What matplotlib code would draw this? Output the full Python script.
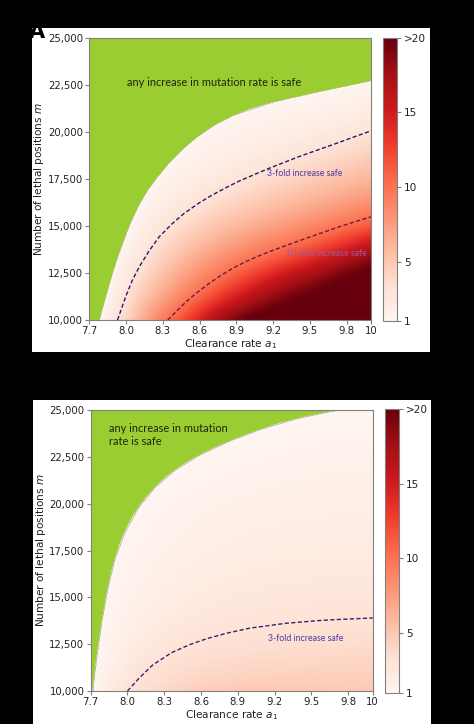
import numpy as np
import matplotlib
matplotlib.use("Agg")
import matplotlib.pyplot as plt
import matplotlib.tri as mtri
from matplotlib.patches import Rectangle
from matplotlib.colors import Normalize
from matplotlib.cm import ScalarMappable

# ---------------- data ----------------
x_ticks = [7.7, 8.0, 8.3, 8.6, 8.9, 9.2, 9.5, 9.8, 10.0]
x_tick_labels = ["7.7", "8.0", "8.3", "8.6", "8.9", "9.2", "9.5", "9.8", "10"]
y_ticks = [10000, 12500, 15000, 17500, 20000, 22500, 25000]
y_tick_labels = ["10,000", "12,500", "15,000", "17,500", "20,000", "22,500", "25,000"]
cbar_ticks = [1, 5, 10, 15, 20]
cbar_labels = ["1", "5", "10", "15", ">20"]

# Panel A : edge of the green "any increase is safe" region
edge_A_a1 = [7.783, 7.80, 7.82, 7.84, 7.86, 7.88, 7.90, 7.93, 7.96, 8.00, 8.05, 8.10, 8.15, 8.20,
             8.26, 8.33, 8.40, 8.48, 8.56, 8.65, 8.75, 8.86, 9.00, 9.16, 9.35, 9.57, 9.80, 10.0]
edge_A_m = [10000, 10420, 10900, 11370, 11830, 12270, 12700, 13320, 13880, 14580, 15380, 16040, 16650, 17130,
            17640, 18200, 18700, 19200, 19640, 20080, 20480, 20850, 21220, 21540, 21830, 22150, 22460, 22740]
# Panel A : lines of equal fold increase (1 = edge, 3, 10, 20 = saturation)
safe_A_a1 = [7.783, 7.84, 7.88, 7.92, 7.975, 8.03, 8.10, 8.17, 8.26, 8.35, 8.46, 8.58, 8.72, 8.88, 9.22, 9.60, 10.0]
safe_A_m = [10000, 11370, 12270, 13110, 14100, 15060, 16040, 16840, 17640, 18340, 19075, 19740, 20360, 20900,
            21630, 22190, 22740]
fold3_A_a1 = [7.93, 8.00, 8.05, 8.11, 8.19, 8.27, 8.37, 8.47, 8.59, 8.69, 8.81, 8.92, 9.035, 9.16, 9.41, 9.70, 10.0]
fold3_A_m = [10000, 11300, 12100, 12860, 13700, 14430, 15090, 15660, 16210, 16610, 17030, 17390, 17715, 18060,
             18700, 19370, 20080]
fold10_A_a1 = [8.34, 8.49, 8.585, 8.68, 8.78, 8.88, 8.98, 9.07, 9.17, 9.24, 9.32, 9.39, 9.46, 9.53, 9.675, 9.83, 10.0]
fold10_A_m = [10000, 10975, 11490, 11960, 12400, 12790, 13120, 13380, 13640, 13810, 14000, 14165, 14330, 14490,
              14820, 15160, 15500]
fold20_A_a1 = [8.97, 9.18, 9.27, 9.36, 9.42, 9.476, 9.534, 9.58, 9.62, 9.65, 9.687, 9.716, 9.746, 9.78, 9.85, 9.92, 10.0]
fold20_A_m = [10000, 10530, 10750, 10975, 11120, 11265, 11410, 11535, 11645, 11740, 11840, 11925, 11995, 12100,
              12280, 12490, 12700]
levels_A = [1, 3, 10, 20]
corner_level_A = 20

# Panel B
edge_B_a1 = [7.715, 7.725, 7.735, 7.746, 7.76, 7.775, 7.79, 7.81, 7.83, 7.85, 7.875, 7.90, 7.93, 7.96, 8.00,
             8.05, 8.10, 8.16, 8.23, 8.31, 8.40, 8.50, 8.62, 8.75, 8.90, 9.07, 9.25, 9.45, 9.60, 9.72]
edge_B_m = [10000, 10650, 11250, 11760, 12450, 13130, 13760, 14520, 15230, 15870, 16560, 17160, 17750, 18260, 18830,
            19420, 19920, 20420, 20930, 21420, 21870, 22290, 22720, 23120, 23530, 23950, 24330, 24660, 24850, 25000]
safe_B_a1 = [7.715, 7.728, 7.746, 7.766, 7.787, 7.813, 7.842, 7.896, 7.978, 8.087, 8.224, 8.387,
             8.578, 8.824, 9.096, 9.369, 9.587, 9.72, 10.0]
safe_B_m = [10000, 10870, 11760, 12720, 13700, 14640, 15650, 17070, 18490, 19790, 20890, 21800,
            22570, 23330, 24000, 24530, 24840, 25000, 25000]
fold3_B_a1 = [8.00, 8.10, 8.205, 8.36, 8.513, 8.65, 8.81, 9.00, 9.147, 9.287, 9.385, 9.475,
              9.568, 9.656, 9.736, 9.816, 9.88, 9.92, 10.0]
fold3_B_m = [10000, 10720, 11385, 12050, 12490, 12800, 13085, 13360, 13487, 13610, 13665, 13713,
             13763, 13797, 13821, 13845, 13864, 13876, 13900]
levels_B = [1, 3]
corner_level_B = 4.8

# ---------------- styling ----------------
XMIN, XMAX = 7.7, 10.0
YMIN, YMAX = 10000, 25000
W, H = 474, 724
GREEN = "#9acd32"
SPINE = "#808080"
TXT_FONT = ["Lato", "DejaVu Sans"]
cmap = plt.get_cmap("Reds")
norm = Normalize(vmin=1, vmax=20)

fig = plt.figure(figsize=(W / 100, H / 100), dpi=100, facecolor="black")


def px_rect(x0, y0, x1, y1):
    """pixel box (top-left origin) -> figure fraction [l, b, w, h]"""
    return [x0 / W, 1 - y1 / H, (x1 - x0) / W, (y1 - y0) / H]


for (x0, y0, x1, y1) in [(32, 28, 430, 352), (33, 400, 431, 724)]:
    l, b, w, h = px_rect(x0, y0, x1, y1)
    fig.patches.append(Rectangle((l, b), w, h, transform=fig.transFigure,
                                 facecolor="white", edgecolor="none", zorder=-10))


def shade(ax, rows_a1, rows_m, levels, corner_level):
    """Fill the region between the equal-level lines with the library's
    triangulation interpolator and show it as an image."""
    R, n = len(rows_a1), len(rows_a1[0])
    u, v, z = [], [], []
    for r in range(R):
        u += [(a - XMIN) / (XMAX - XMIN) for a in rows_a1[r]]
        v += [(m - YMIN) / (YMAX - YMIN) for m in rows_m[r]]
        z += [levels[r]] * n
    u.append(1.0); v.append(0.0); z.append(corner_level)
    tris = []
    for r in range(R - 1):
        for j in range(n - 1):
            a = r * n + j
            c = (r + 1) * n + j
            tris += [[a, a + 1, c], [a + 1, c + 1, c]]
    k = R * n
    for j in range(n - 1):
        tris.append([(R - 1) * n + j, (R - 1) * n + j + 1, k])
    tri = mtri.Triangulation(u, v, tris)
    G = 500
    gu, gv = np.meshgrid(np.linspace(0, 1, G), np.linspace(0, 1, G))
    try:
        interp = mtri.CubicTriInterpolator(tri, np.array(z, float), kind="geom")
        Z = interp(gu, gv)
    except Exception:
        interp = mtri.LinearTriInterpolator(tri, np.array(z, float))
        Z = interp(gu, gv)
    ax.imshow(Z, extent=[XMIN, XMAX, YMIN, YMAX], origin="lower", aspect="auto",
              cmap=cmap, norm=norm, interpolation="bilinear", zorder=1)


def draw_panel(ax_box, cax_box, rows_a1, rows_m, levels, corner_level,
               edge_a1, edge_m, lines, texts):
    ax = fig.add_axes(px_rect(*ax_box))
    cax = fig.add_axes(px_rect(*cax_box))
    ax.set_facecolor(cmap(0.0))
    shade(ax, rows_a1, rows_m, levels, corner_level)

    poly_x = [XMIN] + list(edge_a1) + [XMAX, XMIN]
    poly_y = [YMIN] + list(edge_m) + [YMAX, YMAX]
    ax.fill(poly_x, poly_y, color=GREEN, lw=0, zorder=2)

    for (la, lm, col) in lines:
        ax.plot(la, lm, ls="--", lw=1.0, color=col, dashes=(3.0, 1.7), zorder=3)

    for (tx, ty, s, col, ha, fs) in texts:
        ax.text(tx, ty, s, color=col, ha=ha, va="center", fontsize=fs,
                family=TXT_FONT, zorder=4, linespacing=1.3)

    ax.set_xlim(XMIN, XMAX)
    ax.set_ylim(YMIN, YMAX)
    ax.set_xticks(x_ticks)
    ax.set_xticklabels(x_tick_labels)
    ax.set_yticks(y_ticks)
    ax.set_yticklabels(y_tick_labels)
    ax.tick_params(labelsize=7.3, color=SPINE, length=3, width=0.8, pad=1.5,
                   labelcolor="#222222")
    for sp in ax.spines.values():
        sp.set_color(SPINE)
        sp.set_linewidth(0.8)
        sp.set_zorder(5)
    ax.set_xlabel("Clearance rate $a_1$", fontsize=7.6, labelpad=1, color="#222222")
    ax.set_ylabel("Number of lethal positions $m$", fontsize=7.6, labelpad=1, color="#222222")

    sm_ = ScalarMappable(norm=norm, cmap=cmap)
    cb = fig.colorbar(sm_, cax=cax, ticks=cbar_ticks)
    cb.ax.set_yticklabels(cbar_labels)
    cb.ax.tick_params(labelsize=7.6, color=SPINE, length=3, width=0.8, pad=2,
                      labelcolor="#222222")
    cb.outline.set_edgecolor(SPINE)
    cb.outline.set_linewidth(0.8)
    return ax


draw_panel((89.3, 38.3, 371.3, 320), (383.3, 37.7, 397.3, 321.3),
           [safe_A_a1, fold3_A_a1, fold10_A_a1, fold20_A_a1],
           [safe_A_m, fold3_A_m, fold10_A_m, fold20_A_m],
           levels_A, corner_level_A, edge_A_a1, edge_A_m,
           [(fold3_A_a1, fold3_A_m, "#241c6a"), (fold10_A_a1, fold10_A_m, "#6a1a4a")],
           [(8.72, 22670, "any increase in mutation rate is safe", "#1a260c", "center", 7.9),
            (9.46, 17810, "3-fold increase safe", "#4b3aa8", "center", 6.3),
            (9.63, 13550, "10-fold increase safe", "#9a5aa6", "center", 6.3)])

draw_panel((90.7, 410, 372.7, 691), (385, 409.3, 399.3, 692.7),
           [safe_B_a1, fold3_B_a1],
           [safe_B_m, fold3_B_m],
           levels_B, corner_level_B, edge_B_a1, edge_B_m,
           [(fold3_B_a1, fold3_B_m, "#2e2470")],
           [(7.85, 23670, "any increase in mutation\nrate is safe", "#1a260c", "left", 7.9),
            (9.454, 12780, "3-fold increase safe", "#4b3aa8", "center", 6.3)])

fig.text(37 / W, 1 - 37.5 / H, "A", fontsize=15, fontweight="bold", color="black",
         ha="center", va="baseline")

fig.savefig("out.png", dpi=100, facecolor="black")
